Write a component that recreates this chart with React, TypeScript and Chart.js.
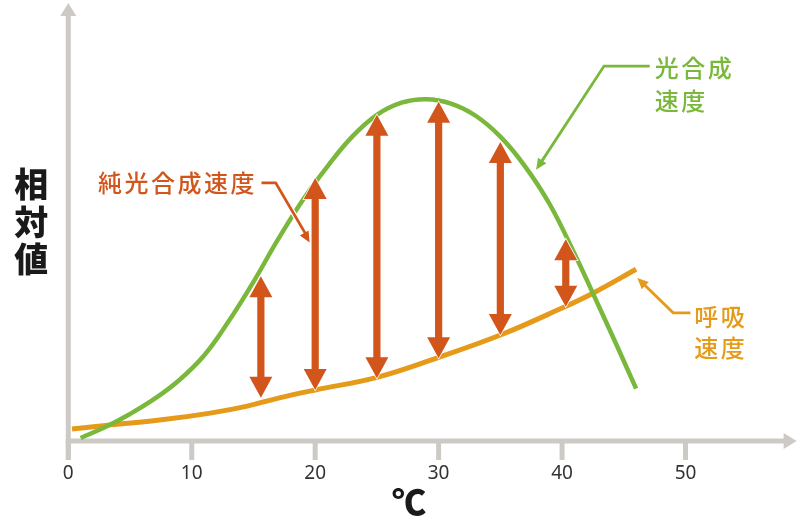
import React, { useEffect, useRef } from 'react';
import { Chart, registerables } from 'chart.js';

Chart.register(...registerables);

// Temperature (°C) and relative values
const photoTemps = [1, 3, 5, 7, 9, 11, 13, 15, 17, 19, 21, 23, 25, 27, 29, 31, 33, 35, 37, 39, 41, 43, 44.5, 46];
const photoValues = [0.7, 3.2, 6.2, 9.7, 14.0, 19.6, 27.5, 36.5, 46.3, 55.3, 63.0, 69.8, 74.8, 77.6, 78.4, 77.4, 74.6, 69.8, 63.0, 54.3, 43.0, 30.8, 21.5, 12.0];

const respTemps = [0.3, 3.4, 7.4, 11.5, 14.5, 17.1, 20, 25, 30, 35, 40, 42.5, 46];
const respValues = [2.75, 3.7, 4.8, 6.4, 8.0, 9.9, 11.7, 14.6, 19.2, 24.3, 30.5, 33.9, 39.4];

const netTemps = [15.6, 20, 25, 30, 35, 40.3];
const netTop = [37.8, 60.3, 74.8, 77.8, 68.6, 46.3];
const netBottom = [9.9, 11.7, 14.4, 19.0, 24.3, 30.8];

const xTicks = [0, 10, 20, 30, 40, 50];

const GREEN = '#7ab83c';
const ORANGE = '#e59a1a';
const RED = '#d2561c';
const AXIS = '#cdcac6';

const JP = '"Noto Sans CJK JP", "Noto Sans", sans-serif';

function drawHead(ctx: CanvasRenderingContext2D, fx: number, fy: number, tx: number, ty: number, len: number, half: number, color: string) {
  const a = Math.atan2(ty - fy, tx - fx);
  ctx.save();
  ctx.fillStyle = color;
  ctx.beginPath();
  ctx.moveTo(tx, ty);
  ctx.lineTo(tx - len * Math.cos(a) + half * Math.sin(a), ty - len * Math.sin(a) - half * Math.cos(a));
  ctx.lineTo(tx - len * Math.cos(a) - half * Math.sin(a), ty - len * Math.sin(a) + half * Math.cos(a));
  ctx.closePath();
  ctx.fill();
  ctx.restore();
}

const decor = {
  id: 'decor',
  beforeDatasetsDraw(chart: any) {
    const { ctx } = chart;
    const xs = chart.scales.x;
    const ys = chart.scales.y;
    const x0 = xs.getPixelForValue(0);
    const y0 = ys.getPixelForValue(0);
    const xEnd = xs.getPixelForValue(xs.max);
    const yEnd = ys.getPixelForValue(ys.max);
    ctx.save();
    ctx.strokeStyle = AXIS;
    ctx.lineWidth = 5;
    ctx.lineCap = 'butt';
    xTicks.forEach((t) => {
      const px = xs.getPixelForValue(t);
      ctx.beginPath();
      ctx.moveTo(px, y0);
      ctx.lineTo(px, y0 + 19);
      ctx.stroke();
    });
    ctx.beginPath();
    ctx.moveTo(x0 - 2.5, y0);
    ctx.lineTo(xEnd - 10, y0);
    ctx.stroke();
    drawHead(ctx, x0, y0, xEnd, y0, 13, 8, AXIS);
    ctx.beginPath();
    ctx.moveTo(x0, y0 + 19);
    ctx.lineTo(x0, yEnd + 10);
    ctx.stroke();
    drawHead(ctx, x0, y0, x0, yEnd - 2, 13, 8, AXIS);
    ctx.fillStyle = '#333333';
    ctx.font = '19px "Noto Sans", sans-serif';
    ctx.textAlign = 'center';
    ctx.textBaseline = 'middle';
    xTicks.forEach((t) => {
      ctx.fillText(String(t), xs.getPixelForValue(t), y0 + 33);
    });
    ctx.restore();
  },
  afterDatasetsDraw(chart: any) {
    const { ctx } = chart;
    const xs = chart.scales.x;
    const ys = chart.scales.y;
    const X = (v: number) => xs.getPixelForValue(v);
    const Y = (v: number) => ys.getPixelForValue(v);
    ctx.save();
    netTemps.forEach((t, i) => {
      const x = X(t);
      const yt = Y(netTop[i]);
      const yb = Y(netBottom[i]);
      const hl = 21, hw = 11.5, sw = 3.6;
      ctx.beginPath();
      ctx.moveTo(x, yt);
      ctx.lineTo(x + hw, yt + hl);
      ctx.lineTo(x + sw, yt + hl);
      ctx.lineTo(x + sw, yb - hl);
      ctx.lineTo(x + hw, yb - hl);
      ctx.lineTo(x, yb);
      ctx.lineTo(x - hw, yb - hl);
      ctx.lineTo(x - sw, yb - hl);
      ctx.lineTo(x - sw, yt + hl);
      ctx.lineTo(x - hw, yt + hl);
      ctx.closePath();
      ctx.strokeStyle = '#ffffff';
      ctx.lineWidth = 1.5;
      ctx.lineJoin = 'miter';
      ctx.stroke();
      ctx.fillStyle = RED;
      ctx.fill();
    });

    ctx.lineWidth = 2.8;
    ctx.lineJoin = 'miter';
    ctx.lineCap = 'butt';
    {
      const p1 = [X(15.65), Y(59.2)], p2 = [X(16.8), Y(59.2)], p3 = [X(19.55), Y(45.5)];
      ctx.strokeStyle = '#ffffff';
      ctx.lineWidth = 5;
      ctx.beginPath();
      ctx.moveTo(p2[0], p2[1]);
      ctx.lineTo(p3[0] - 3, p3[1] - 7);
      ctx.stroke();
      ctx.strokeStyle = RED;
      ctx.lineWidth = 2.8;
      ctx.beginPath();
      ctx.moveTo(p1[0], p1[1]);
      ctx.lineTo(p2[0], p2[1]);
      ctx.lineTo(p3[0] - 3, p3[1] - 7);
      ctx.stroke();
      drawHead(ctx, p2[0], p2[1], p3[0], p3[1], 11, 5, RED);
    }
    {
      const p1 = [X(47.1), Y(86.0)], p2 = [X(43.4), Y(86.0)], p3 = [X(37.9), Y(62.2)];
      ctx.strokeStyle = GREEN;
      ctx.beginPath();
      ctx.moveTo(p1[0], p1[1]);
      ctx.lineTo(p2[0], p2[1]);
      const a = Math.atan2(p3[1] - p2[1], p3[0] - p2[0]);
      ctx.lineTo(p3[0] - 8 * Math.cos(a), p3[1] - 8 * Math.sin(a));
      ctx.stroke();
      drawHead(ctx, p2[0], p2[1], p3[0], p3[1], 11, 5, GREEN);
    }
    {
      const p1 = [X(50.4), Y(29.4)], p2 = [X(49.0), Y(29.4)], p3 = [X(46.1), Y(37.4)];
      ctx.strokeStyle = ORANGE;
      ctx.beginPath();
      ctx.moveTo(p1[0], p1[1]);
      ctx.lineTo(p2[0], p2[1]);
      const a = Math.atan2(p3[1] - p2[1], p3[0] - p2[0]);
      ctx.lineTo(p3[0] - 8 * Math.cos(a), p3[1] - 8 * Math.sin(a));
      ctx.stroke();
      drawHead(ctx, p2[0], p2[1], p3[0], p3[1], 11, 5, ORANGE);
    }

    ctx.textBaseline = 'middle';
    ctx.textAlign = 'left';
    ctx.font = `500 24px ${JP}`;
    (ctx as any).letterSpacing = '2.5px';
    ctx.fillStyle = RED;
    ctx.fillText('純光合成速度', X(2.4), Y(59.2));
    ctx.fillStyle = GREEN;
    ctx.fillText('光合成', X(47.5), Y(85.6));
    ctx.fillText('速度', X(47.5), Y(78.0));
    ctx.fillStyle = ORANGE;
    ctx.fillText('呼吸', X(50.7), Y(28.5));
    ctx.fillText('速度', X(50.7), Y(21.3));
    (ctx as any).letterSpacing = '0px';

    ctx.fillStyle = '#1a1a1a';
    ctx.textAlign = 'center';
    ctx.font = `900 34px ${JP}`;
    const yTitle = ['相', '対', '値'];
    const cx = X(0) - 37;
    [59, 50.3, 41.8].forEach((v, i) => ctx.fillText(yTitle[i], cx, Y(v)));
    ctx.fillText('℃', X(27.6), Y(0) + 61);
    ctx.restore();
  },
};

export default function App() {
  const ref = useRef<HTMLCanvasElement | null>(null);
  useEffect(() => {
    if (!ref.current) return;
    const chart = new Chart(ref.current, {
      type: 'line',
      data: {
        datasets: [
          {
            label: '光合成速度',
            data: photoTemps.map((t, i) => ({ x: t, y: photoValues[i] })),
            borderColor: GREEN,
            borderWidth: 4.5,
            pointRadius: 0,
            tension: 0.4,
            fill: false,
          },
          {
            label: '呼吸速度',
            data: respTemps.map((t, i) => ({ x: t, y: respValues[i] })),
            borderColor: ORANGE,
            borderWidth: 5,
            pointRadius: 0,
            tension: 0.4,
            fill: false,
          },
        ],
      },
      options: {
        animation: false,
        responsive: false,
        devicePixelRatio: 1,
        layout: { padding: { left: 68.3, right: 3.4, top: 5, bottom: 79 } },
        plugins: { legend: { display: false }, tooltip: { enabled: false } },
        scales: {
          x: { type: 'linear', min: 0, max: 59, display: false },
          y: { type: 'linear', min: 0, max: 100, display: false },
        },
      },
      plugins: [decor],
    });
    return () => chart.destroy();
  }, []);
  return (
    <div style={{ position: 'absolute', left: 0, top: 0, width: 800, height: 520, background: '#ffffff' }}>
      <canvas ref={ref} width={800} height={520} />
    </div>
  );
}
